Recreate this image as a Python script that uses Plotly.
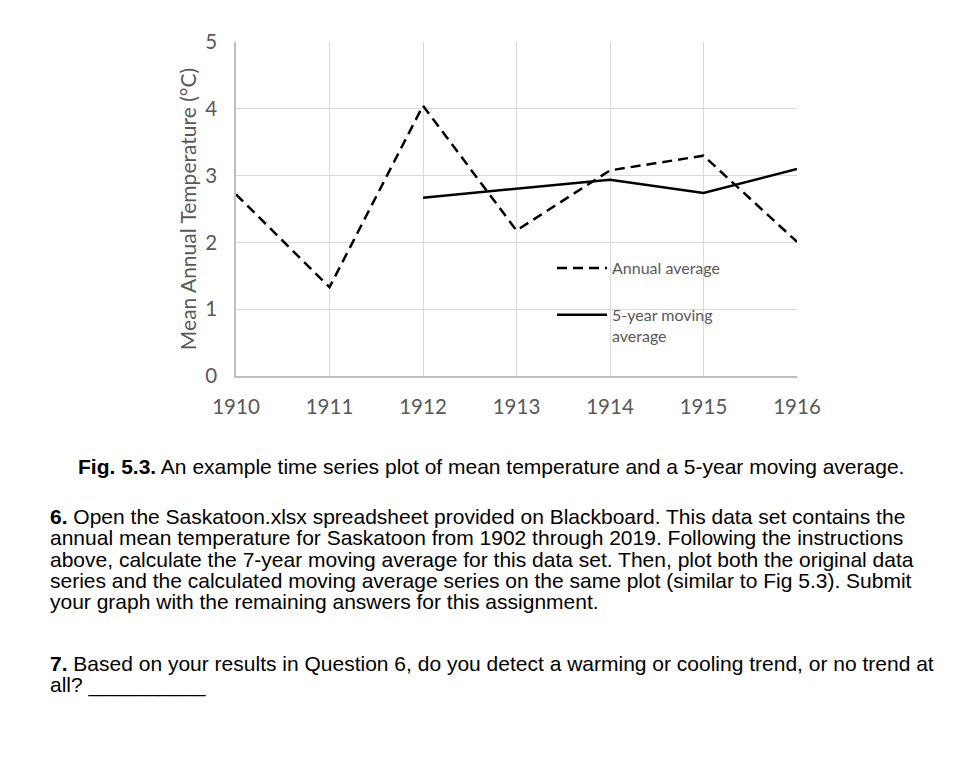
import plotly.graph_objects as go

years = [1910, 1911, 1912, 1913, 1914, 1915, 1916]
annual_avg = [2.72, 1.33, 4.05, 2.18, 3.08, 3.30, 2.01]
moving_avg_5yr = [None, None, 2.67, 2.80, 2.94, 2.74, 3.10]
y_ticks = [0, 1, 2, 3, 4, 5]

W, H = 974, 772
OFF = 8  # page body margin
L, R, T, B = 236 - OFF, 797 - OFF, 42 - OFF, 376 - OFF  # plot area in figure pixels


def px_x(px):
    return (px - OFF - L) / (R - L)


def px_y(py):
    return (B - (py - OFF)) / (B - T)


fig = go.Figure()
fig.add_trace(go.Scatter(
    x=years, y=annual_avg, mode="lines", name="Annual average",
    line=dict(color="black", width=2.5, dash="10px,6px"),
    legendgroup="a",
))
fig.add_trace(go.Scatter(
    x=years, y=moving_avg_5yr, mode="lines", name="5-year moving<br>average",
    line=dict(color="black", width=2.5),
    legendgroup="b", connectgaps=False,
))

axis_font = dict(family="Lato", size=20.5, color="#595959")

fig.update_layout(
    width=W, height=H,
    margin=dict(l=L, r=W - R, t=T, b=H - B, autoexpand=False),
    paper_bgcolor="white", plot_bgcolor="white",
    showlegend=True,
    legend=dict(
        x=px_x(552), y=px_y(251), xanchor="left", yanchor="top",
        bgcolor="rgba(0,0,0,0)", borderwidth=0,
        font=dict(family="Lato", size=16, color="#595959"),
        traceorder="grouped", tracegroupgap=23, itemwidth=50,
        valign="top",
    ),
    xaxis=dict(
        range=[1910, 1916], tickvals=years, ticktext=[str(y) for y in years],
        showgrid=True, gridcolor="#D9D9D9", gridwidth=1,
        showline=True, linecolor="#BFBFBF", linewidth=1.5,
        zeroline=False, ticks="", tickfont=axis_font,
        ticklabelstandoff=12, automargin=False, fixedrange=True,
    ),
    yaxis=dict(
        range=[0, 5.003], tickvals=y_ticks,
        showgrid=True, gridcolor="#D9D9D9", gridwidth=1,
        showline=True, linecolor="#BFBFBF", linewidth=1.5,
        zeroline=False, ticks="", tickfont=axis_font,
        ticklabelstandoff=13, automargin=False, fixedrange=True,
        title=dict(text="Mean Annual Temperature (°C)",
                   font=dict(family="Lato", size=21, color="#595959"),
                   standoff=3),
    ),
    shapes=[dict(type="rect", xref="paper", yref="paper",
                 x0=px_x(530), x1=px_x(747), y0=px_y(352), y1=px_y(243),
                 fillcolor="white", line=dict(width=0), layer="between")],
)

txt_font = dict(family="Liberation Sans", size=21, color="black")
lines = [
    (76, 466, "<b>Fig. 5.3.</b> An example time series plot of mean temperature and a 5-year moving average."),
    (48, 516, "<b>6.</b> Open the Saskatoon.xlsx spreadsheet provided on Blackboard. This data set contains the"),
    (48, 537.5, "annual mean temperature for Saskatoon from 1902 through 2019. Following the instructions"),
    (48, 559, "above, calculate the 7-year moving average for this data set. Then, plot both the original data"),
    (48, 580.5, "series and the calculated moving average series on the same plot (similar to Fig 5.3). Submit"),
    (48, 601.5, "your graph with the remaining answers for this assignment."),
    (48, 663, "<b>7.</b> Based on your results in Question 6, do you detect a warming or cooling trend, or no trend at"),
    (48, 684.5, "all? __________"),
]
for x0, y0, t in lines:
    fig.add_annotation(x=px_x(x0), y=px_y(y0), xref="paper", yref="paper",
                       xanchor="left", yanchor="middle", text=t, showarrow=False,
                       align="left", font=txt_font)

fig.write_html("out.html")
